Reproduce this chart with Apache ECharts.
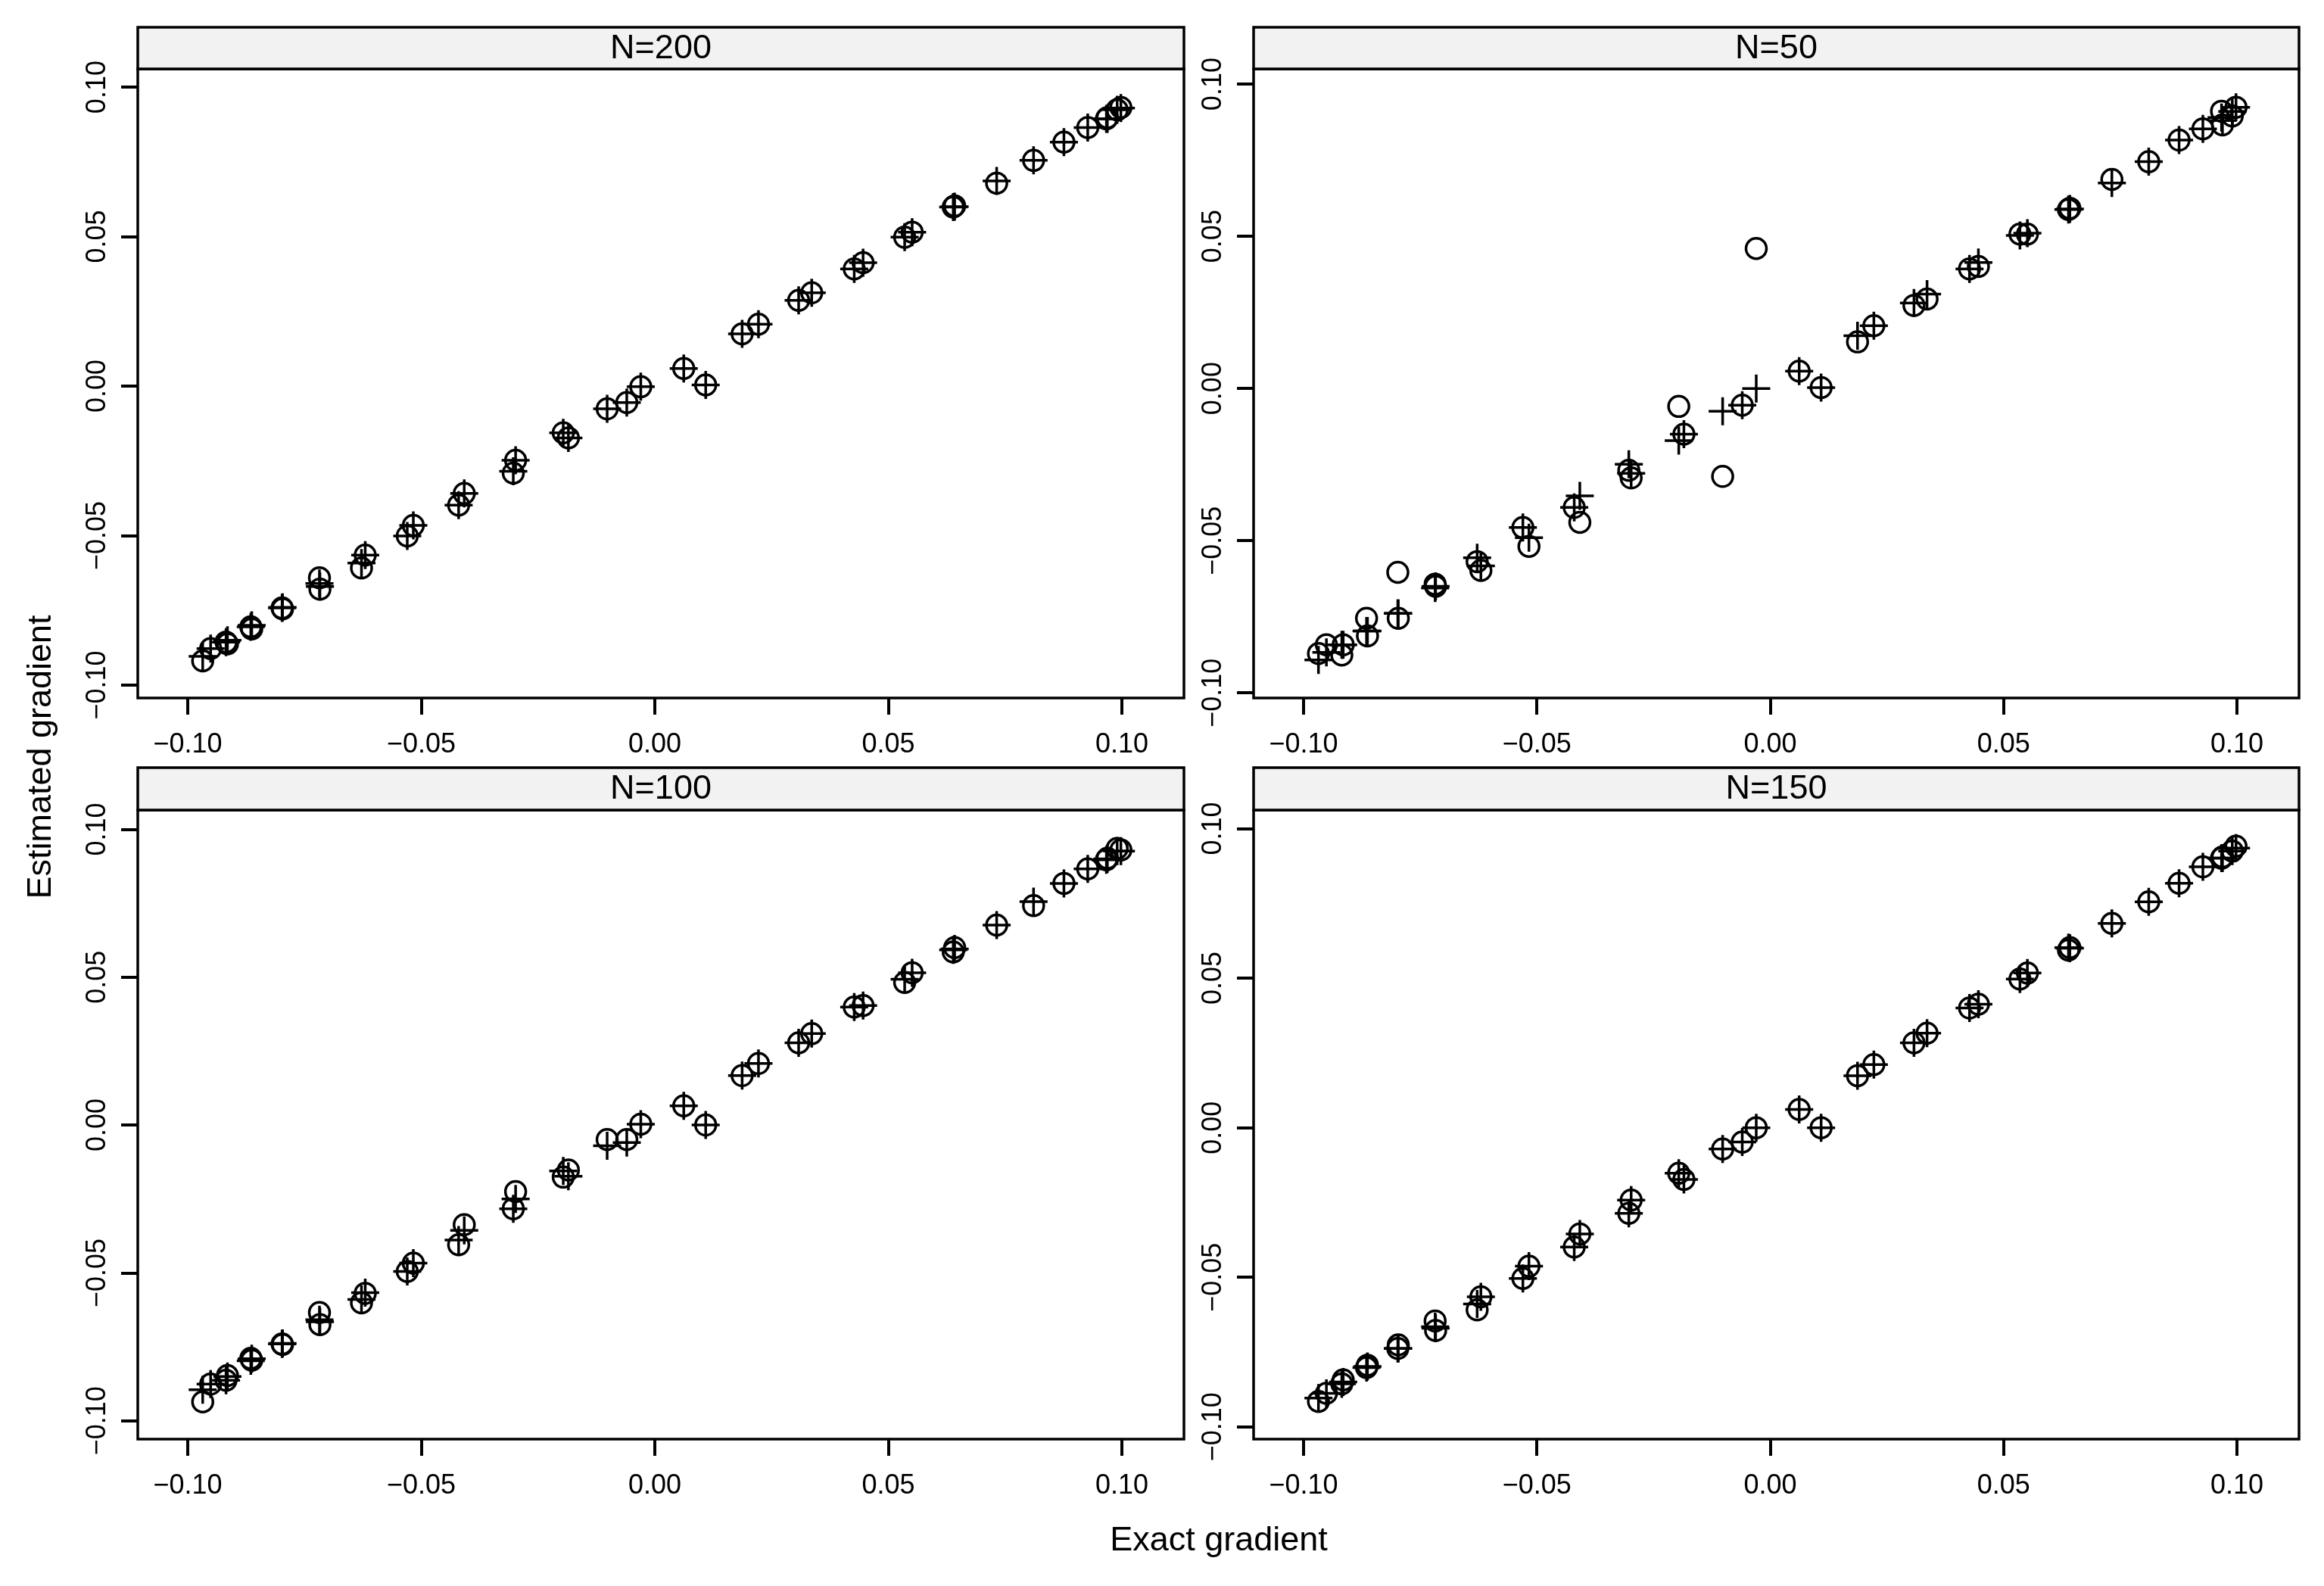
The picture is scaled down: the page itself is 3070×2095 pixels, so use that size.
<!DOCTYPE html>
<html><head><meta charset="utf-8">
<script src="https://cdn.jsdelivr.net/npm/echarts@6/dist/echarts.min.js"></script>
<style>html,body{margin:0;padding:0;background:#fff}#c{width:3070px;height:2095px}</style>
</head><body><div id="c"></div>
<script>
// ---- data ----
const exactGradient = [-0.0968,-0.0951,-0.0918,-0.0915,-0.0865,-0.0863,-0.0798,-0.0797,-0.0718,-0.0717,-0.0628,-0.0620,-0.0530,-0.0517,-0.0420,-0.0408,-0.0303,-0.0298,-0.0196,-0.0185,-0.0102,-0.0060,-0.0030,0.0062,0.0109,0.0187,0.0222,0.0308,0.0336,0.0427,0.0446,0.0535,0.0551,0.0639,0.0642,0.0732,0.0811,0.0876,0.0927,0.0967,0.0969,0.0990,0.0998];
const panelNames = ['N=200','N=50','N=100','N=150'];
const circleN200 = [-0.0919,-0.0878,-0.0856,-0.0862,-0.0805,-0.0812,-0.0742,-0.0745,-0.0641,-0.0679,-0.0608,-0.0565,-0.0501,-0.0466,-0.0398,-0.0359,-0.0291,-0.0248,-0.0156,-0.0173,-0.0076,-0.0055,-0.0002,0.0059,0.0004,0.0175,0.0207,0.0287,0.0312,0.0392,0.0413,0.0498,0.0515,0.0599,0.0603,0.0679,0.0755,0.0816,0.0865,0.0894,0.0898,0.0924,0.0932];
const plusN200 = [-0.0904,-0.0878,-0.0856,-0.0850,-0.0805,-0.0800,-0.0742,-0.0740,-0.0660,-0.0670,-0.0592,-0.0565,-0.0501,-0.0466,-0.0398,-0.0359,-0.0285,-0.0248,-0.0156,-0.0173,-0.0076,-0.0055,-0.0002,0.0059,0.0004,0.0175,0.0207,0.0287,0.0312,0.0392,0.0413,0.0498,0.0515,0.0599,0.0600,0.0686,0.0755,0.0816,0.0865,0.0894,0.0894,0.0924,0.0930];
const circleN50 = [-0.0871,-0.0842,-0.0876,-0.0842,-0.0755,-0.0813,-0.0604,-0.0755,-0.0643,-0.0650,-0.0569,-0.0598,-0.0457,-0.0519,-0.0391,-0.0440,-0.0269,-0.0294,-0.0059,-0.0150,-0.0289,-0.0055,0.0460,0.0057,0.0003,0.0153,0.0206,0.0273,0.0294,0.0393,0.0401,0.0507,0.0507,0.0588,0.0592,0.0687,0.0745,0.0816,0.0853,0.0911,0.0866,0.0895,0.0924];
const plusN50 = [-0.0892,-0.0867,-0.0842,-0.0842,-0.0797,-0.0797,-0.0739,-0.0739,-0.0656,-0.0650,-0.0556,-0.0583,-0.0457,-0.0490,-0.0391,-0.0353,-0.0249,-0.0279,-0.0171,-0.0150,-0.0075,-0.0055,0.0000,0.0057,0.0003,0.0173,0.0206,0.0281,0.0310,0.0393,0.0414,0.0503,0.0510,0.0588,0.0590,0.0675,0.0745,0.0816,0.0853,0.0890,0.0880,0.0910,0.0924];
const circleN100 = [-0.0936,-0.0876,-0.0863,-0.0847,-0.0789,-0.0795,-0.0740,-0.0742,-0.0634,-0.0675,-0.0601,-0.0569,-0.0495,-0.0467,-0.0405,-0.0337,-0.0283,-0.0225,-0.0176,-0.0152,-0.0049,-0.0049,0.0003,0.0065,0.0000,0.0167,0.0208,0.0278,0.0309,0.0399,0.0404,0.0482,0.0515,0.0585,0.0600,0.0676,0.0742,0.0817,0.0866,0.0897,0.0902,0.0935,0.0930];
const plusN100 = [-0.0895,-0.0876,-0.0863,-0.0850,-0.0797,-0.0790,-0.0740,-0.0738,-0.0658,-0.0665,-0.0590,-0.0567,-0.0495,-0.0467,-0.0389,-0.0356,-0.0283,-0.0250,-0.0155,-0.0173,-0.0070,-0.0059,0.0003,0.0065,0.0000,0.0167,0.0208,0.0278,0.0309,0.0399,0.0404,0.0493,0.0515,0.0592,0.0595,0.0676,0.0755,0.0817,0.0866,0.0897,0.0900,0.0926,0.0926];
const circleN150 = [-0.0915,-0.0888,-0.0856,-0.0843,-0.0802,-0.0794,-0.0738,-0.0726,-0.0646,-0.0678,-0.0609,-0.0565,-0.0504,-0.0463,-0.0399,-0.0355,-0.0286,-0.0242,-0.0152,-0.0173,-0.0071,-0.0048,0.0000,0.0061,0.0000,0.0174,0.0211,0.0284,0.0316,0.0400,0.0413,0.0497,0.0517,0.0594,0.0602,0.0683,0.0755,0.0817,0.0872,0.0901,0.0905,0.0925,0.0941];
const plusN150 = [-0.0904,-0.0888,-0.0856,-0.0850,-0.0802,-0.0798,-0.0738,-0.0738,-0.0665,-0.0670,-0.0589,-0.0565,-0.0504,-0.0463,-0.0399,-0.0355,-0.0286,-0.0242,-0.0152,-0.0173,-0.0071,-0.0048,0.0000,0.0061,0.0000,0.0174,0.0211,0.0284,0.0316,0.0400,0.0413,0.0497,0.0517,0.0602,0.0600,0.0683,0.0755,0.0817,0.0872,0.0901,0.0901,0.0925,0.0935];
const xTicks = [-0.10,-0.05,0.00,0.05,0.10];
const yTicks = [-0.10,-0.05,0.00,0.05,0.10];

// ---- layout ----
const FONT = 'Liberation Sans';
const circles = [circleN200, circleN50, circleN100, circleN150];
const pluses = [plusN200, plusN50, plusN100, plusN150];
const panels = [
  {left:182, top:91, width:1382, height:831, stripTop:36, ymin:-0.1043, ymax:0.1061},
  {left:1656, top:91, width:1381, height:831, stripTop:36, ymin:-0.1017, ymax:0.1050},
  {left:182, top:1070, width:1382, height:831, stripTop:1014, ymin:-0.1062, ymax:0.1065},
  {left:1656, top:1070, width:1381, height:831, stripTop:1014, ymin:-0.1041, ymax:0.1062}
];
const fmt = v => { const s = Math.abs(v).toFixed(2); return v < -1e-9 ? '\u2212' + s : s; };
const PLUS = 'path://M10,0L10,20M0,10L20,10';
const LW = 3.5;

const grid = [], xAxis = [], yAxis = [], series = [], graphic = [];
panels.forEach((p, i) => {
  grid.push({left:p.left, top:p.top, width:p.width, height:p.height, show:true,
    borderColor:'#000', borderWidth:LW, backgroundColor:'transparent', containLabel:false});
  xAxis.push({type:'value', gridIndex:i, position:'bottom', min:-0.1107, max:0.1133,
    axisLine:{show:false, onZero:false}, splitLine:{show:false},
    axisTick:{show:true, customValues:xTicks, length:22, lineStyle:{color:'#000', width:4}},
    axisLabel:{show:true, customValues:xTicks, formatter:fmt, color:'#000', fontFamily:FONT, fontSize:36, margin:44}});
  yAxis.push({type:'value', gridIndex:i, position:'left', min:p.ymin, max:p.ymax,
    axisLine:{show:false, onZero:false}, splitLine:{show:false},
    axisTick:{show:true, customValues:yTicks, length:22, lineStyle:{color:'#000', width:4}},
    axisLabel:{show:true, customValues:yTicks, formatter:fmt, rotate:90, color:'#000', fontFamily:FONT, fontSize:36, margin:35}});
  series.push({type:'scatter', xAxisIndex:i, yAxisIndex:i, symbol:'circle', symbolSize:27,
    itemStyle:{color:'none', borderColor:'#000', borderWidth:LW, opacity:1},
    data: exactGradient.map((x, k) => [x, circles[i][k]]), silent:true, z:3});
  series.push({type:'scatter', xAxisIndex:i, yAxisIndex:i, symbol:PLUS, symbolSize:37,
    itemStyle:{color:'none', borderColor:'#000', borderWidth:LW, opacity:1},
    data: exactGradient.map((x, k) => [x, pluses[i][k]]), silent:true, z:4});
  graphic.push({type:'rect', shape:{x:p.left, y:p.stripTop, width:p.width, height:p.top - p.stripTop},
    style:{fill:'#f2f2f2', stroke:'#000', lineWidth:LW}, z:10});
  graphic.push({type:'text', x:p.left + p.width/2, y:(p.stripTop + p.top)/2 + 1,
    style:{text:panelNames[i], font:'45px "' + FONT + '"', fill:'#000', textAlign:'center', textVerticalAlign:'middle'}, z:11});
});
graphic.push({type:'text', x:1610, y:2036,
  style:{text:'Exact gradient', font:'45px "' + FONT + '"', fill:'#000', textAlign:'center', textVerticalAlign:'middle'}});
graphic.push({type:'text', x:55, y:1000, rotation:Math.PI/2,
  style:{text:'Estimated gradient', font:'45px "' + FONT + '"', fill:'#000', textAlign:'center', textVerticalAlign:'middle'}});

const chart = echarts.init(document.getElementById('c'), null, {renderer:'canvas'});
chart.setOption({backgroundColor:'#fff', animation:false, grid, xAxis, yAxis, series, graphic});
</script></body></html>
